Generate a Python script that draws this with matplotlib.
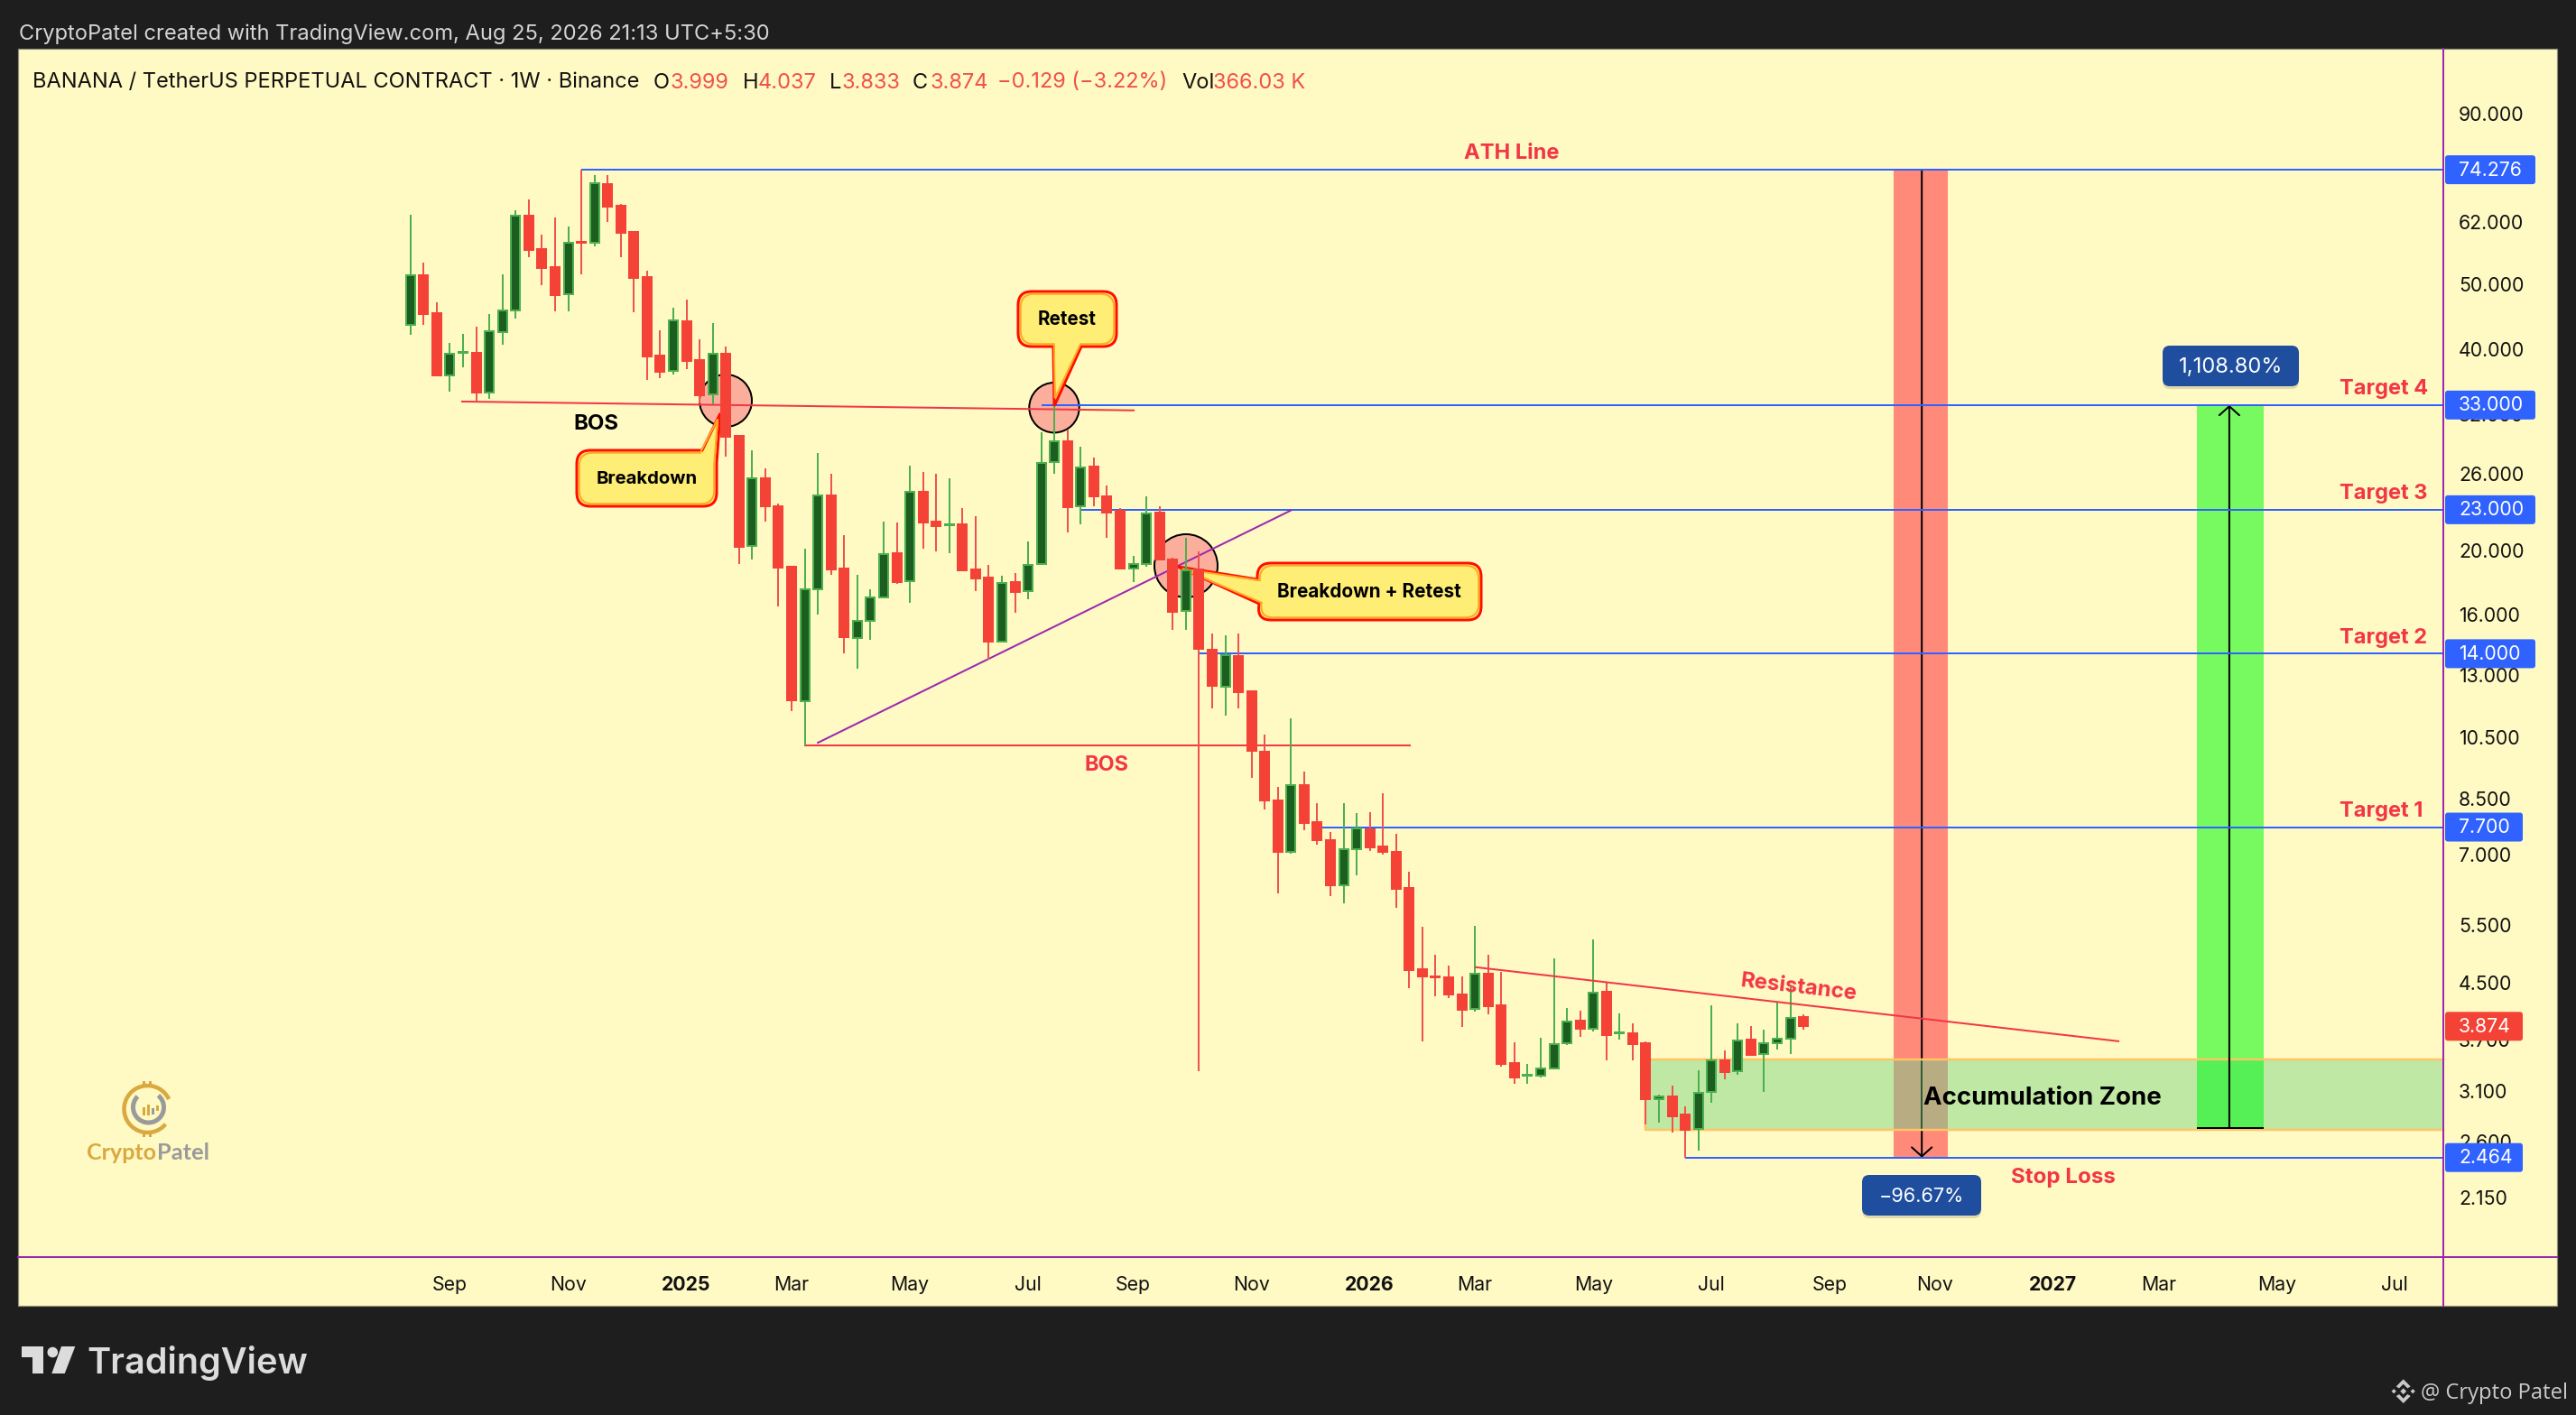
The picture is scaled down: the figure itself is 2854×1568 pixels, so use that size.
import numpy as np
import matplotlib
matplotlib.use('Agg')
import matplotlib.pyplot as plt
from matplotlib.lines import Line2D
from matplotlib.patches import PathPatch, Circle, Polygon, Arc, FancyBboxPatch, Rectangle
from matplotlib.path import Path
from matplotlib.transforms import Affine2D
from matplotlib.ticker import FixedLocator, NullLocator

plt.rcParams['font.family'] = ['Inter', 'DejaVu Sans']

# ---------- data ----------
opens = [43.5,51.6,45.3,36.6,39.5,39.5,34.5,42.5,45.7,63.3,56.5,53.1,48.3,57.9,57.7,70.8,65.6,60.0,51.3,39.1,37.1,44.1,38.5,34.2,39.4,29.7,20.3,25.6,23.3,18.9,11.9,17.5,24.2,18.8,14.8,15.7,17.0,19.8,18.0,24.5,22.1,21.8,21.9,18.7,18.2,14.6,17.9,17.4,19.1,27.1,29.1,23.3,26.7,24.1,22.9,18.8,19.1,22.8,19.4,16.2,18.7,14.2,12.5,13.9,12.3,10.0,8.44,7.07,8.89,7.83,7.36,6.31,7.13,7.65,7.20,7.08,6.24,4.71,4.60,4.58,4.33,4.11,4.65,4.16,3.41,3.27,3.27,3.35,3.65,3.95,3.84,4.36,3.78,3.78,3.65,3.01,3.04,2.86,2.72,3.09,3.45,3.32,3.70,3.52,3.66,3.71,3.999]
highs = [63.5,53.9,47.0,40.9,42.2,43.2,45.2,51.8,64.6,67.1,59.4,63.0,61.1,74.276,72.9,72.9,66.0,60.0,52.4,42.7,46.2,47.5,41.4,43.8,40.4,29.7,28.2,26.5,23.5,18.9,20.1,28.0,26.0,21.1,18.4,17.5,22.1,22.0,26.8,26.2,26.0,25.6,23.1,22.5,19.0,18.3,18.5,20.6,30.0,32.9,30.3,28.6,27.5,25.0,23.1,19.6,24.1,23.3,19.5,20.9,19.9,15.0,14.9,15.0,12.3,10.6,8.85,11.2,9.33,8.36,7.57,8.36,8.08,8.10,8.65,7.53,6.60,5.46,4.96,4.78,4.60,5.48,4.96,4.68,3.67,3.40,3.72,4.90,4.13,4.09,5.23,4.51,4.05,3.91,3.68,3.06,3.16,2.94,3.33,4.16,3.56,3.91,3.88,3.83,4.22,4.43,4.037]
lows = [42.0,43.5,36.6,34.6,37.6,33.4,33.7,40.6,44.4,54.9,49.9,45.6,45.6,51.8,57.0,62.0,54.9,45.4,36.0,36.2,36.7,37.4,33.2,33.1,27.6,19.1,19.4,22.1,16.5,11.5,10.2,16.0,18.4,14.0,13.3,14.7,17.0,17.8,16.7,20.1,19.9,19.8,18.6,17.4,13.7,14.6,16.1,16.9,19.0,26.0,21.3,21.9,23.3,20.9,18.8,17.9,18.9,19.4,15.2,15.2,3.32,11.6,11.3,11.6,9.13,8.18,6.13,7.02,7.62,7.25,6.07,5.92,6.52,7.09,7.01,5.83,4.42,3.68,4.30,4.27,3.86,4.08,4.04,3.37,3.18,3.18,3.25,3.34,3.63,3.74,3.80,3.45,3.70,3.45,2.76,2.78,2.69,2.464,2.52,2.98,3.23,3.28,3.50,3.09,3.58,3.52,3.833]
closes = [51.633,45.214,36.591,39.347,39.592,34.455,42.53,45.685,63.338,56.392,52.989,48.267,57.693,57.753,70.846,65.408,59.826,51.206,39.022,37.011,44.148,38.419,34.135,39.347,29.583,20.259,25.611,23.304,18.86,11.937,17.467,24.191,18.723,14.842,15.664,17.019,19.761,17.925,24.494,22.035,21.74,21.898,18.665,18.169,14.613,17.888,17.34,19.037,27.058,29.096,23.232,26.64,24.116,22.802,18.801,19.096,22.731,19.375,16.193,18.646,14.233,12.545,13.914,12.279,10.017,8.428,7.075,8.892,7.819,7.35,6.31,7.125,7.653,7.177,7.075,6.228,4.708,4.608,4.586,4.326,4.105,4.647,4.155,3.405,3.251,3.274,3.353,3.649,3.943,3.836,4.352,3.764,3.791,3.649,3.009,3.038,2.845,2.713,3.081,3.446,3.313,3.693,3.508,3.658,3.715,3.99,3.874]

xtick_pos = [3,12,21,29,38,47,55,64,73,81,90,99,108,116,125,133,142,151]
xtick_labels = ['Sep','Nov','2025','Mar','May','Jul','Sep','Nov','2026','Mar','May','Jul','Sep','Nov','2027','Mar','May','Jul']
ytick_vals = [90,62,50,40,32,26,20,16,13,10.5,8.5,7,5.5,4.5,3.7,3.1,2.6,2.15]

ath, t4, t3, t2, t1, last, stop = 74.276, 33.0, 23.0, 14.0, 7.7, 3.874, 2.464
hlines_blue = [(13, ath), (48, t4), (51, t3), (60, t2), (69.4, t1), (97, stop)]
badges = [(ath,'#2F62FF'),(t4,'#2F62FF'),(t3,'#2F62FF'),(t2,'#2F62FF'),(t1,'#2F62FF'),(last,'#F44336'),(stop,'#2F62FF')]
bos1_x, bos1_y = [3.93, 55.03], [33.4, 32.4]
bos2_x, bos2_y = [30, 76.04], [10.2, 10.2]
trend_x, trend_y = [31.0, 66.98], [10.30, 22.94]
resist_x, resist_y = [81.06, 129.96], [4.75, 3.68]
zone_x, zone_top, zone_bot = 94, 3.457, 2.712
red_col_x, green_col_x = (112.87, 117.0), (135.9, 141.0)
red_arrow_x, green_arrow_x = 115.0, 138.4
green_col_bot = 2.728

# ---------- layout ----------
W, H = 2854, 1568
BG, PANEL = '#1E1E1E', '#FFF9C4'
PL, PR, PT, PB = 20, 2833, 54, 1447
AR, AB = 2707, 1392.6
X0, DX = 454.8, 14.56
Y_REF, LOG_REF, PX_DEC = 188.1, np.log10(74.276), 740.0
PURPLE, BLUE, TRED = '#9C27B0', '#2F62FF', '#F23645'
CRED, CGRN, CDRK = '#F44336', '#4CAF50', '#1B5E20'
pt = 0.72  # points per pixel at dpi 100

fig = plt.figure(figsize=(W/100, H/100), dpi=100, facecolor=BG)
px = Affine2D().scale(1, -1).translate(0, H)
fig.add_artist(Rectangle((PL, PT), PR-PL, PB-PT, transform=px, fc=PANEL, ec='#8C8C78', lw=1.2*pt, zorder=-5))

ax = fig.add_axes([PL/W, 1-AB/H, (AR-PL)/W, (AB-PT)/H], zorder=1)
ax.patch.set_visible(False)
ax.set_yscale('log')
ax.set_xlim((PL-X0)/DX, (AR-X0)/DX)
ax.set_ylim(10**(LOG_REF-(AB-Y_REF)/PX_DEC), 10**(LOG_REF+(Y_REF-PT)/PX_DEC))
ax.set_autoscale_on(False)
for s in ['top', 'left', 'right', 'bottom']:
    ax.spines[s].set_visible(False)
ax.set_axisbelow(True)

ax.yaxis.tick_right()
ax.yaxis.set_major_locator(FixedLocator(ytick_vals))
ax.yaxis.set_minor_locator(NullLocator())
ax.set_yticklabels(['%.3f' % v for v in ytick_vals])
TICKFS = 15.3
ax.tick_params(axis='y', length=0, pad=17*pt, labelsize=TICKFS, labelcolor='#111111', which='both')
ax.set_xticks(xtick_pos)
ax.set_xticklabels(xtick_labels)
ax.tick_params(axis='x', length=0, pad=21*pt, labelsize=TICKFS, labelcolor='#111111')
for lab, s in zip(ax.get_xticklabels(), xtick_labels):
    if s.isdigit():
        lab.set_fontweight('bold')

renderer = fig.canvas.get_renderer()

def T(x, y, s, w=None, size=16, ha='left', va='center', color='black', weight='normal', rot=0, z=8, family=None):
    kw = {'family': family} if family else {}
    if va == 'center':
        y = y+1.5
    t = ax.text(x, y, s, transform=px, fontsize=size, ha=ha, va=va, color=color, fontweight=weight,
                clip_on=False, zorder=z, rotation_mode='anchor', **kw)
    if w:
        m = t.get_window_extent(renderer).width
        t.set_fontsize(size*w/m)
    t.set_rotation(rot)
    return t

def rounded(verts):
    V, C = [], []
    n = len(verts)
    for i, (x, y, r) in enumerate(verts):
        v = np.array([x, y], float)
        if r:
            a = np.array(verts[i-1][:2], float)-v
            b = np.array(verts[(i+1) % n][:2], float)-v
            p1 = v+r*a/np.hypot(*a)
            p2 = v+r*b/np.hypot(*b)
            V += [p1, v, p2]
            C += [Path.MOVETO if i == 0 else Path.LINETO, Path.CURVE3, Path.CURVE3]
        else:
            V.append(v)
            C.append(Path.MOVETO if i == 0 else Path.LINETO)
    V.append(V[0])
    C.append(Path.CLOSEPOLY)
    return Path(np.array(V), C)

def callout(verts, box):
    p = PathPatch(rounded(verts), transform=px, fc='#FFEE75', ec='#FF0E00', lw=3*pt, zorder=4, clip_on=False, joinstyle='miter')
    ax.add_patch(p)
    x0, y0, x1, y1 = box
    cx, cy = (x0+x1)/2, (y0+y1)/2
    fx, fy = (x1-x0-5.5)/(x1-x0), (y1-y0-5.5)/(y1-y0)
    inner = [(cx+(x-cx)*fx, cy+(y-cy)*fy, r) for x, y, r in verts]
    ax.add_patch(PathPatch(rounded(inner), transform=px, fc='none', ec='#FFA726', lw=2*pt, zorder=4, clip_on=False))

# columns, zone
ax.fill_between(red_col_x, stop, ath, color='#FF8A7A', lw=0, zorder=2.1)
ax.fill_between(green_col_x, green_col_bot, t4, color='#76FA60', lw=0, zorder=2.1)
ax.annotate('', xy=(red_arrow_x, stop), xytext=(red_arrow_x, ath), zorder=2.2,
            arrowprops=dict(arrowstyle='->,head_length=0.72,head_width=0.8', mutation_scale=10, color='black',
                            lw=2*pt, shrinkA=0, shrinkB=0))
ax.hlines(stop, *red_col_x, color='black', lw=2*pt, zorder=2.2)
x_end = (AR-X0)/DX
ax.fill_between([zone_x, x_end], zone_bot, zone_top, color='#2EC25A', alpha=0.30, lw=0, zorder=2.5)
# the zone's overlap with the two columns
ax.fill_between(red_col_x, zone_bot, zone_top, color='#B8AC82', lw=0, zorder=2.55)
ax.fill_between(green_col_x, green_col_bot, zone_top, color='#55F055', lw=0, zorder=2.55)
ax.vlines(red_arrow_x, zone_bot, zone_top, color='#2F5A38', lw=2*pt, zorder=2.56)
ax.plot([x_end, zone_x, zone_x, x_end], [zone_top, zone_top, zone_bot, zone_bot], color='#FFC464', lw=2.4*pt, zorder=2.6, clip_on=False)
ax.annotate('', xy=(green_arrow_x, t4), xytext=(green_arrow_x, green_col_bot), zorder=2.65,
            arrowprops=dict(arrowstyle='->,head_length=0.72,head_width=0.8', mutation_scale=10, color='black',
                            lw=2*pt, shrinkA=0, shrinkB=0))
ax.hlines(green_col_bot, *green_col_x, color='black', lw=2*pt, zorder=2.65)

# circles
for cx, cy, r in [(804, 444, 29), (1168, 451.7, 27.7), (1314, 627, 35)]:
    ax.add_patch(Circle((cx, cy), r, transform=px, fc='#FCAE9C', ec='black', lw=2*pt, zorder=2.8, clip_on=False))

# lines
for start, val in hlines_blue:
    ax.plot([start, x_end], [val, val], color=BLUE, lw=2*pt, zorder=3, solid_capstyle='butt')
ax.plot(bos1_x, bos1_y, color=TRED, lw=2*pt, zorder=3)
ax.plot(bos2_x, bos2_y, color=TRED, lw=2*pt, zorder=3)
ax.plot(trend_x, trend_y, color=PURPLE, lw=2*pt, zorder=3)
ax.plot(resist_x, resist_y, color=TRED, lw=2*pt, zorder=6)

# callouts
r = 15
callout([(639,499,r),(778,499,0),(798,458,0),(794,513,0),(794,561,r),(639,561,r)], (639,499,794,561))
callout([(1128,323,r),(1237,323,r),(1237,384,r),(1198,384,0),(1168,450,0),(1167,384,0),(1128,384,r)], (1128,323,1237,384))
callout([(1393,624,r),(1641,624,r),(1641,687,r),(1393,687,r),(1395,669,0),(1305,628,0),(1393,642,0)], (1393,624,1641,687))

# candles
o, h, l, c = map(np.array, (opens, highs, lows, closes))
idx = np.arange(len(o))
up = c >= o
ax.vlines(idx[up], l[up], h[up], color=CGRN, lw=2*pt, zorder=5)
ax.vlines(idx[~up], l[~up], h[~up], color='#EF5350', lw=2*pt, zorder=5)
bw = 10/DX
ax.bar(idx[up], np.abs(c-o)[up], bottom=np.minimum(o, c)[up], width=bw, fc=CDRK, ec=CGRN, lw=2*pt, zorder=5.1)
ax.bar(idx[~up], np.abs(c-o)[~up], bottom=np.minimum(o, c)[~up], width=bw, fc=CRED, ec=CRED, lw=2*pt, zorder=5.1)

# purple frame
for (a, b), (d, e) in [((PL, PR), (AB, AB)), ((AR, AR), (PT, PB))]:
    fig.add_artist(Line2D([a, b], [d, e], transform=px, color=PURPLE, lw=2*pt, zorder=3))

# badges
for v, col in badges:
    y = H-ax.transData.transform((0, v))[1]
    s = '%.3f' % v
    right = 2811 if v >= 10 else 2797
    ax.add_patch(FancyBboxPatch((AR+2, y-16), right-AR-4, 32, boxstyle='round,pad=0,rounding_size=3',
                                transform=px, fc=col, ec='none', zorder=9, clip_on=False))
    T(2724, y-1, s, size=TICKFS, color='white', z=10)

# annotation text
T(1675, 168, 'ATH Line', w=106, ha='center', color=TRED, weight='bold')
T(660, 468, 'BOS', w=50, ha='center', weight='bold')
T(1226, 847, 'BOS', w=49, ha='center', color=TRED, weight='bold')
T(716.5, 529, 'Breakdown', w=112.5, ha='center', weight='bold')
T(1182, 353, 'Retest', w=65, ha='center', weight='bold')
T(1517, 655, 'Breakdown + Retest', w=204, ha='center', weight='bold')
T(2263, 1216, 'Accumulation Zone', w=263, ha='center', weight='bold')
T(1992.4, 1093, 'Resistance', w=130, ha='center', color=TRED, weight='bold', rot=-6.6)
T(2286, 1304, 'Stop Loss', w=116, ha='center', color=TRED, weight='bold')
for y, s in [(429.6, 'Target 4'), (545, 'Target 3'), (705, 'Target 2'), (897.5, 'Target 1')]:
    T(2592, y, s, size=17, color=TRED, weight='bold')

# percent boxes
for (x0, y0, x1, y1), s, tw in [((2396, 383, 2547, 428), '1,108.80%', 116), ((2063, 1302, 2195, 1347), '\u221296.67%', 95)]:
    ax.add_patch(FancyBboxPatch((x0, y0+3), x1-x0, y1-y0, boxstyle='round,pad=0,rounding_size=8', transform=px,
                                fc='#000000', alpha=0.12, ec='none', zorder=6.5, clip_on=False))
    ax.add_patch(FancyBboxPatch((x0, y0), x1-x0, y1-y0, boxstyle='round,pad=0,rounding_size=8', transform=px,
                                fc='#1F4E9E', ec='none', zorder=7, clip_on=False))
    T((x0+x1)/2, (y0+y1)/2, s, w=tw, ha='center', color='white', z=8)

# header
T(21, 36, 'CryptoPatel created with TradingView.com, Aug 25, 2026 21:13 UTC+5:30', w=833, color='#D4D4D4')
hd = T(36, 90, 'BANANA / TetherUS PERPETUAL CONTRACT \u00b7 1W \u00b7 Binance', w=673, color='#111111')
hs = hd.get_fontsize()
RED2 = '#F0504A'
for x, s, col in [(724,'O','#111111'),(743,'3.999',RED2),(823,'H','#111111'),(840,'4.037',RED2),(919,'L','#111111'),
                  (933,'3.833',RED2),(1011,'C','#111111'),(1030,'3.874',RED2),(1105,'\u22120.129 (\u22123.22%)',RED2),
                  (1309,'Vol','#111111'),(1344,'366.03 K',RED2)]:
    T(x, 90, s, size=hs, color=col)

# TradingView footer
LG = '#DCDCDC'
ax.add_patch(Polygon([(24,1492),(48.3,1492),(48.3,1522),(36,1522),(36,1504),(24,1504)], transform=px, fc=LG, ec='none', clip_on=False))
ax.add_patch(Circle((58.3,1498.5), 5.8, transform=px, fc=LG, ec='none', clip_on=False))
ax.add_patch(Polygon([(68,1492),(83.3,1492),(71.7,1522),(57.3,1522)], transform=px, fc=LG, ec='none', clip_on=False))
T(96, 1522, 'TradingView', w=245, va='baseline', color=LG, weight='semibold')

# Binance mark + signature
BX, BY = 2662.7, 1541.7
GR = '#C9C9C9'
def dia(cx, cy, r):
    return Polygon([(cx,cy-r),(cx+r,cy),(cx,cy+r),(cx-r,cy)], transform=px, fc=GR, ec='none', clip_on=False)
for cx, cy, r in [(BX,BY,3.4),(BX-10.5,BY,2.6),(BX+10.5,BY,2.6)]:
    ax.add_patch(dia(cx, cy, r))
for sg in (1, -1):
    ax.add_patch(Polygon([(BX,BY-13.3*sg),(BX+8,BY-5.3*sg),(BX+4.6,BY-3.3*sg),(BX,BY-8*sg),(BX-4.6,BY-3.3*sg),(BX-8,BY-5.3*sg)],
                         transform=px, fc=GR, ec='none', clip_on=False))
T(2682, 1542, '@ Crypto Patel', w=163, color=GR, family='Open Sans')

# CryptoPatel logo
GOLD, SILV = '#D9A93F', '#9A9A9A'
LX, LY = 163.5, 1229
ax.add_patch(Arc((LX,LY), 52, 52, theta1=40, theta2=335, transform=px, color=GOLD, lw=4.5*pt, clip_on=False))
ax.add_patch(Arc((LX+1,LY-2), 34, 34, theta1=-50, theta2=225, angle=0, transform=px, color=SILV, lw=5*pt, clip_on=False))
ax.add_patch(Rectangle((LX-6,LY-31), 3, 5, transform=px, fc=GOLD, ec='none', clip_on=False))
ax.add_patch(Rectangle((LX+1,LY-31), 3, 5, transform=px, fc=GOLD, ec='none', clip_on=False))
ax.add_patch(Rectangle((LX-6,LY+26), 3, 5, transform=px, fc=GOLD, ec='none', clip_on=False))
ax.add_patch(Rectangle((LX+1,LY+26), 3, 5, transform=px, fc=GOLD, ec='none', clip_on=False))
for dx, dy, hh, col in [(-6,-2,9,GOLD),(-1,-5,12,GOLD),(4,-1,7,SILV),(9,-4,6,GOLD)]:
    ax.add_patch(Rectangle((LX+dx,LY+dy), 3, hh, transform=px, fc=col, ec='none', clip_on=False))
T(96, 1276, 'Crypto', w=77, color=GOLD, weight='bold', family='Lato')
T(174, 1276, 'Patel', w=58, color=SILV, weight='bold', family='Lato')

fig.savefig('out.png', dpi=100, facecolor=BG)
